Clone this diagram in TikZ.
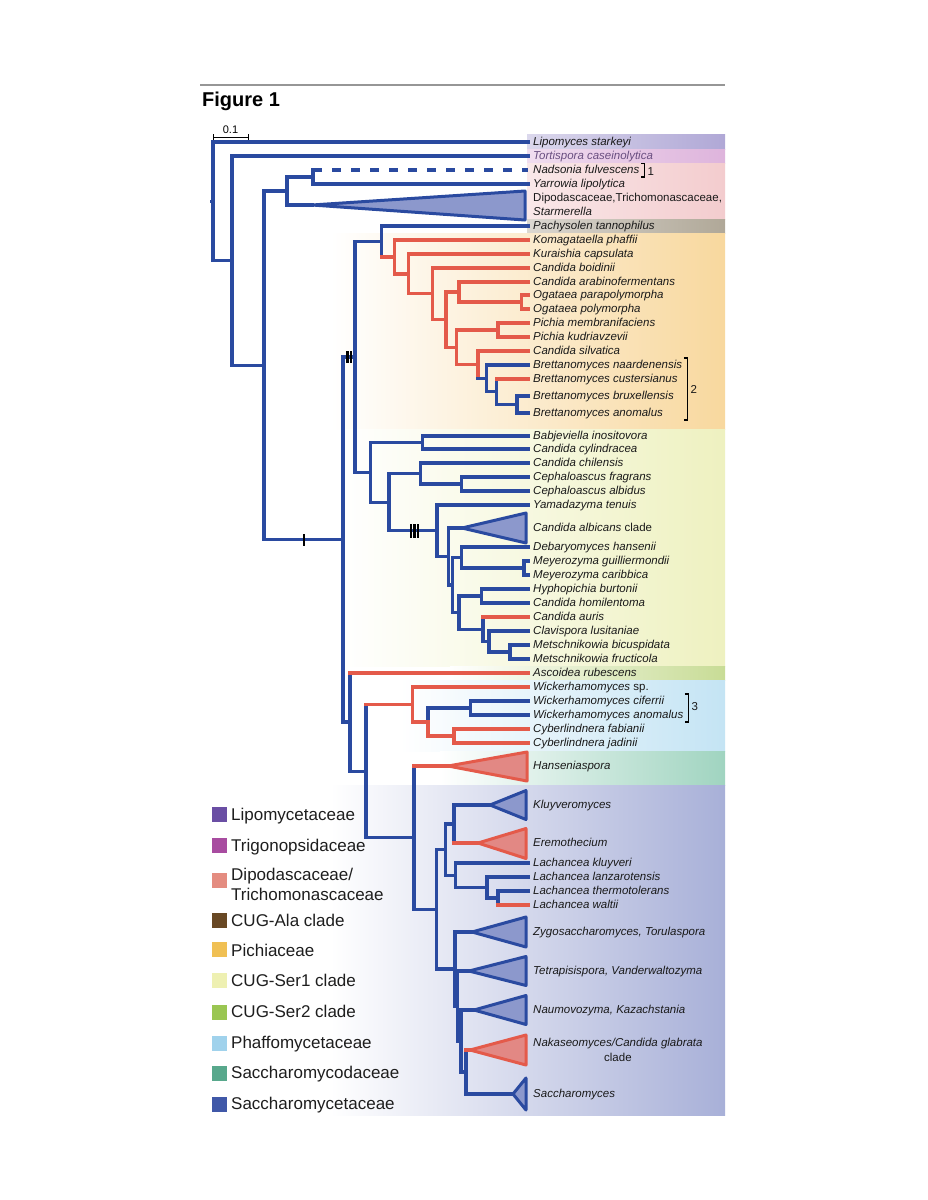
\documentclass[tikz,border=0pt]{standalone}
\usepackage{fontspec}
\setmainfont{Liberation Sans}
\usetikzlibrary{calc}
\definecolor{tb}{RGB}{42,74,160}
\definecolor{tr}{RGB}{228,90,74}
\definecolor{fb}{RGB}{140,152,204}
\definecolor{fr}{RGB}{226,136,132}
\definecolor{labtxt}{RGB}{25,25,25}
\definecolor{legtxt}{RGB}{30,30,30}
\definecolor{tortc}{RGB}{105,78,128}
\definecolor{rulec}{RGB}{150,150,150}
\definecolor{bLipo}{RGB}{176,168,214}
\definecolor{bTort}{RGB}{222,180,220}
\definecolor{bDip}{RGB}{243,204,206}
\definecolor{bPac}{RGB}{176,168,152}
\definecolor{bPic}{RGB}{248,216,158}
\definecolor{bSerA}{RGB}{238,241,192}
\definecolor{bSerB}{RGB}{200,220,150}
\definecolor{bPhf}{RGB}{196,228,244}
\definecolor{bSdc}{RGB}{160,212,192}
\definecolor{bSct}{RGB}{168,176,216}
\definecolor{lLipo}{RGB}{106,78,164}
\definecolor{lTrig}{RGB}{168,76,160}
\definecolor{lDip}{RGB}{228,140,128}
\definecolor{lAla}{RGB}{104,72,36}
\definecolor{lPic}{RGB}{240,192,84}
\definecolor{lSerA}{RGB}{238,240,178}
\definecolor{lSerB}{RGB}{154,198,82}
\definecolor{lPhf}{RGB}{160,210,236}
\definecolor{lSdc}{RGB}{88,168,140}
\definecolor{lSct}{RGB}{64,88,168}
\newcommand\labfont{\fontsize{11.5}{13}\selectfont}
\begin{document}
\begin{tikzpicture}[x=1pt,y=-1pt,
  lab/.style={anchor=west, inner xsep=5pt, inner ysep=0pt, text height=8.3pt, text depth=2.3pt, font=\labfont\itshape, text=labtxt},
  lup/.style={lab, font=\labfont},
  bb/.style={draw=tb, line width=3.2pt, line cap=rect},
  rr/.style={draw=tr, line width=3.2pt, line cap=rect},
  tbl/.style={draw=tb, fill=fb, line width=3pt, line join=round},
  trd/.style={draw=tr, fill=fr, line width=3pt, line join=round},
  brk/.style={draw=black, line width=1.1pt},
  mtick/.style={fill=black},
  num/.style={anchor=west, inner sep=0pt, font=\labfont, text=labtxt},
  legsq/.style={minimum size=15pt, inner sep=0pt, anchor=center},
  legtx/.style={anchor=west, inner sep=0pt, text height=12.5pt, text depth=3.5pt, font=\fontsize{17}{20}\selectfont, text=legtxt}
]
\useasboundingbox (0,0) rectangle (927,1200);
\fill[white] (0,0) rectangle (927,1200);

% ---------- background bands
\shade[left color=bLipo!45, right color=bLipo] (527,134) rectangle (725,149);
\shade[left color=bTort!45, right color=bTort] (527,149) rectangle (725,163);
\shade[left color=bDip!45, right color=bDip] (527,163) rectangle (725,219);
\shade[left color=bPac!45, right color=bPac] (527,219) rectangle (725,233);
\shade[left color=white, right color=bPic] (330,233) rectangle (725,429);
\shade[left color=white, right color=bSerA] (340,429) rectangle (725,666);
\shade[left color=white, right color=bSerB] (450,666) rectangle (725,680.5);
\shade[left color=white, right color=bPhf] (400,680.5) rectangle (725,751);
\shade[left color=white, right color=bSdc] (440,751) rectangle (725,785);
\shade[left color=white, right color=bSct] (330,785) rectangle (725,1115);

% ---------- title
\coordinate (ruleL) at (200,85);
\coordinate (ruleR) at (725,85);
\draw[rulec, line width=1.2pt] (ruleL) -- (ruleR);
\node[anchor=base west, inner sep=0pt, font=\fontsize{20}{24}\selectfont\bfseries] (title) at (202,106) {Figure 1};

% ---------- scale bar
\coordinate (sbL) at (213,137);
\coordinate (sbR) at (248,137);
\draw[line width=0.8pt] (sbL) -- (sbR);
\draw[line width=0.8pt] ($(sbL)+(0,-3)$) -- ($(sbL)+(0,3)$);
\draw[line width=0.8pt] ($(sbR)+(0,-3)$) -- ($(sbR)+(0,3)$);
\node[inner sep=0pt, font=\fontsize{11}{13}\selectfont] (sbt) at (230.5,130) {0.1};

% ---------- leaf labels
\node[lab] (Lipo) at (528,142) {Lipomyces starkeyi};
\node[lab, text=tortc] (Tort) at (528,156) {Tortispora caseinolytica};
\node[lab] (Nads) at (528,170) {Nadsonia fulvescens};
\node[lab] (Yarr) at (528,184) {Yarrowia lipolytica};
\node[lup] (DipA) at (528,198) {Dipodascaceae,Trichomonascaceae,};
\node[lab] (DipB) at (528,212) {Starmerella};
\node[lab] (Pachy) at (528,226) {Pachysolen tannophilus};
\node[lab] (Koma) at (528,240) {Komagataella phaffii};
\node[lab] (Kura) at (528,254) {Kuraishia capsulata};
\node[lab] (Cboi) at (528,268) {Candida boidinii};
\node[lab] (Cara) at (528,282) {Candida arabinofermentans};
\node[lab] (Opar) at (528,295) {Ogataea parapolymorpha};
\node[lab] (Opol) at (528,309) {Ogataea polymorpha};
\node[lab] (Pmem) at (528,323) {Pichia membranifaciens};
\node[lab] (Pkud) at (528,337) {Pichia kudriavzevii};
\node[lab] (Csil) at (528,351) {Candida silvatica};
\node[lab] (Bnaa) at (528,365) {Brettanomyces naardenensis};
\node[lab] (Bcus) at (528,379) {Brettanomyces custersianus};
\node[lab] (Bbru) at (528,396) {Brettanomyces bruxellensis};
\node[lab] (Bano) at (528,413) {Brettanomyces anomalus};
\node[lab] (Babj) at (528,436) {Babjeviella inositovora};
\node[lab] (Ccyl) at (528,449) {Candida cylindracea};
\node[lab] (Cchi) at (528,463) {Candida chilensis};
\node[lab] (Cfra) at (528,477) {Cephaloascus fragrans};
\node[lab] (Calb) at (528,491) {Cephaloascus albidus};
\node[lab] (Yten) at (528,505) {Yamadazyma tenuis};
\node[lup] (Calc) at (528,528) {\textit{Candida albicans} clade};
\node[lab] (Dhan) at (528,547) {Debaryomyces hansenii};
\node[lab] (Mgui) at (528,561) {Meyerozyma guilliermondii};
\node[lab] (Mcar) at (528,575) {Meyerozyma caribbica};
\node[lab] (Hbur) at (528,589) {Hyphopichia burtonii};
\node[lab] (Chom) at (528,603) {Candida homilentoma};
\node[lab] (Caur) at (528,617) {Candida auris};
\node[lab] (Clus) at (528,631) {Clavispora lusitaniae};
\node[lab] (Mbic) at (528,645) {Metschnikowia bicuspidata};
\node[lab] (Mfru) at (528,659) {Metschnikowia fructicola};
\node[lab] (Arub) at (528,673) {Ascoidea rubescens};
\node[lup] (Wsp) at (528,687) {\textit{Wickerhamomyces} sp.};
\node[lab] (Wcif) at (528,701) {Wickerhamomyces ciferrii};
\node[lab] (Wano) at (528,715) {Wickerhamomyces anomalus};
\node[lab] (Cfab) at (528,729) {Cyberlindnera fabianii};
\node[lab] (Cjad) at (528,743) {Cyberlindnera jadinii};
\node[lab] (Hans) at (528,766) {Hanseniaspora};
\node[lab] (Kluy) at (528,805) {Kluyveromyces};
\node[lab] (Erem) at (528,843) {Eremothecium};
\node[lab] (Lklu) at (528,863) {Lachancea kluyveri};
\node[lab] (Llan) at (528,877) {Lachancea lanzarotensis};
\node[lab] (Lthe) at (528,891) {Lachancea thermotolerans};
\node[lab] (Lwal) at (528,905) {Lachancea waltii};
\node[lab] (Zygo) at (528,932) {Zygosaccharomyces, Torulaspora};
\node[lab] (Tetr) at (528,971) {Tetrapisispora, Vanderwaltozyma};
\node[lab] (Naum) at (528,1010) {Naumovozyma, Kazachstania};
\node[lab] (Naka) at (528,1043) {Nakaseomyces/Candida glabrata};
\node[inner sep=0pt, font=\labfont, text=labtxt] (NakaB) at ($(Naka.center)+(0,14)$) {clade};
\node[lab] (Sacc) at (528,1094) {Saccharomyces};

% ---------- brackets
\coordinate (bAt) at (0,163.5); \coordinate (bAb) at (0,177);
\coordinate (bBt) at (0,358); \coordinate (bBb) at (0,420);
\coordinate (bCt) at (0,694); \coordinate (bCb) at (0,722);
\draw[brk] ($(Nads.east |- bAt)+(-3.5,0)$) -- (Nads.east |- bAt) -- (Nads.east |- bAb) -- ($(Nads.east |- bAb)+(-3.5,0)$);
\node[num] (numA) at ($(Nads.east |- bAt)!0.5!(Nads.east |- bAb)+(3,1)$) {1};
\draw[brk] ($(Bnaa.east |- bBt)+(-3.5,0)$) -- (Bnaa.east |- bBt) -- (Bnaa.east |- bBb) -- ($(Bnaa.east |- bBb)+(-3.5,0)$);
\node[num] (numB) at ($(Bnaa.east |- bBt)!0.5!(Bnaa.east |- bBb)+(3,0)$) {2};
\draw[brk] ($(Wano.east |- bCt)+(-3.5,0)$) -- (Wano.east |- bCt) -- (Wano.east |- bCb) -- ($(Wano.east |- bCb)+(-3.5,0)$);
\node[num] (numC) at ($(Wano.east |- bCt)!0.5!(Wano.east |- bCb)+(3,-1)$) {3};

% ---------- internal nodes
\coordinate (root) at (213,201.3);
\coordinate (n2) at (232,260.6);
\coordinate (n3) at (264,365.25);
\coordinate (n4) at (287,191);
\coordinate (n5) at (313,177);
\coordinate (n6) at (343,539.5);
\coordinate (n7) at (355,356.9);
\coordinate (n8) at (381.4,241.5);
\coordinate (nP6) at (394.5,257);
\coordinate (nP5) at (408.3,273.9);
\coordinate (nP4) at (432.4,293.8);
\coordinate (nP3) at (445.9,319.7);
\coordinate (nAra) at (459,292);
\coordinate (nOg) at (521.7,302);
\coordinate (nP2) at (456.2,347.3);
\coordinate (nPic) at (498,330);
\coordinate (nSil) at (477.9,364.7);
\coordinate (nBn) at (486.6,378.4);
\coordinate (nBc) at (496.2,391.75);
\coordinate (nBB) at (516.9,404.5);
\coordinate (n9) at (370.7,472.3);
\coordinate (n10) at (422.7,442.5);
\coordinate (n11) at (389,502.1);
\coordinate (n12) at (420.7,473.5);
\coordinate (nCe) at (461.3,484);
\coordinate (n13) at (437,530.8);
\coordinate (n14) at (448.5,556.5);
\coordinate (n15) at (452.5,585);
\coordinate (n16) at (461.3,557.5);
\coordinate (nMe) at (524,568);
\coordinate (n17) at (459,612.6);
\coordinate (nH) at (481.7,596);
\coordinate (nA) at (483,629.25);
\coordinate (nC) at (489,641.5);
\coordinate (nMt) at (510,652);
\coordinate (n18) at (350,722);
\coordinate (n19) at (366,771.1);
\coordinate (nPh) at (412.7,704.5);
\coordinate (nW2) at (428,722);
\coordinate (nWc) at (470.7,708);
\coordinate (nCy) at (454,736);
\coordinate (nSa) at (414,837.65);
\coordinate (nS2) at (436.7,909.3);
\coordinate (nKL) at (445.7,849.6);
\coordinate (nKE) at (454,824);
\coordinate (nL) at (455.7,875.25);
\coordinate (nL3) at (487,887.5);
\coordinate (nLt) at (498,898);
\coordinate (nZ) at (455,969);
\coordinate (nT) at (457.5,1006);
\coordinate (nN) at (461,1041);
\coordinate (nNS) at (466,1072);
% triangle apexes
\coordinate (tDip) at (312,205);
\coordinate (tAlb) at (462,528);
\coordinate (tHan) at (448,766);
\coordinate (tKlu) at (490,805);
\coordinate (tErm) at (478,843);
\coordinate (tZyg) at (472,932);
\coordinate (tTet) at (469,971);
\coordinate (tNau) at (474,1010);
\coordinate (tNak) at (470,1050);
\coordinate (tSac) at (513,1094);

% ---------- top part
\draw[bb] (root |- Lipo) -- (root |- n2);
\draw[bb, line cap=butt] (root) -- ++(-3,0);
\draw[bb] (root |- Lipo) -- (Lipo.west);
\draw[bb] (root |- n2) -- (n2);
\draw[bb] (n2 |- Tort) -- (n2 |- n3);
\draw[bb] (n2 |- Tort) -- (Tort.west);
\draw[bb] (n2 |- n3) -- (n3);
\draw[bb] (n3 |- n4) -- (n3 |- n6);
\draw[bb] (n3 |- n4) -- (n4);
\draw[bb] (n3 |- n6) -- (n6);
\draw[bb] (n4 |- n5) -- (n4 |- tDip);
\draw[bb] (n4 |- n5) -- (n5);
\draw[bb] (n4 |- tDip) -- (tDip);
\draw[bb] (n5 |- Nads) -- (n5 |- Yarr);
\draw[bb, line cap=butt, dash pattern=on 9pt off 10pt] (n5 |- Nads) -- (Nads.west);
\draw[bb] (n5 |- Yarr) -- (Yarr.west);
\draw[tbl] (tDip) -- (525,191) -- (525,220) -- cycle;

% ---------- n6 / n7
\draw[bb] (n6 |- n7) -- (n6 |- n18);
\draw[bb] (n6 |- n7) -- (n7);
\draw[bb] (n6 |- n18) -- (n18);
\draw[bb] (n7 |- n8) -- (n7 |- n9);
\draw[bb] (n7 |- n8) -- (n8);
\draw[bb] (n7 |- n9) -- (n9);

% ---------- Pichiaceae
\draw[bb] (n8 |- Pachy) -- (n8 |- nP6);
\draw[bb] (n8 |- Pachy) -- (Pachy.west);
\draw[rr] (n8 |- nP6) -- (nP6);
\draw[rr] (nP6 |- Koma) -- (nP6 |- nP5);
\draw[rr] (nP6 |- Koma) -- (Koma.west);
\draw[rr] (nP6 |- nP5) -- (nP5);
\draw[rr] (nP5 |- Kura) -- (nP5 |- nP4);
\draw[rr] (nP5 |- Kura) -- (Kura.west);
\draw[rr] (nP5 |- nP4) -- (nP4);
\draw[rr] (nP4 |- Cboi) -- (nP4 |- nP3);
\draw[rr] (nP4 |- Cboi) -- (Cboi.west);
\draw[rr] (nP4 |- nP3) -- (nP3);
\draw[rr] (nP3 |- nAra) -- (nP3 |- nP2);
\draw[rr] (nP3 |- nAra) -- (nAra);
\draw[rr] (nP3 |- nP2) -- (nP2);
\draw[rr] (nAra |- Cara) -- (nAra |- nOg);
\draw[rr] (nAra |- Cara) -- (Cara.west);
\draw[rr] (nAra |- nOg) -- (nOg);
\draw[rr] (nOg |- Opar) -- (nOg |- Opol);
\draw[rr] (nOg |- Opar) -- (Opar.west);
\draw[rr] (nOg |- Opol) -- (Opol.west);
\draw[rr] (nP2 |- nPic) -- (nP2 |- nSil);
\draw[rr] (nP2 |- nPic) -- (nPic);
\draw[rr] (nP2 |- nSil) -- (nSil);
\draw[rr] (nPic |- Pmem) -- (nPic |- Pkud);
\draw[rr] (nPic |- Pmem) -- (Pmem.west);
\draw[rr] (nPic |- Pkud) -- (Pkud.west);
\draw[rr] (nSil |- Csil) -- (nSil |- nBn);
\draw[rr] (nSil |- Csil) -- (Csil.west);
\draw[bb] (nSil |- nBn) -- (nBn);
\draw[bb] (nBn |- Bnaa) -- (nBn |- nBc);
\draw[bb] (nBn |- Bnaa) -- (Bnaa.west);
\draw[bb] (nBn |- nBc) -- (nBc);
\draw[bb] (nBc |- Bcus) -- (nBc |- nBB);
\draw[rr] (nBc |- Bcus) -- (Bcus.west);
\draw[bb] (nBc |- nBB) -- (nBB);
\draw[bb] (nBB |- Bbru) -- (nBB |- Bano);
\draw[bb] (nBB |- Bbru) -- (Bbru.west);
\draw[bb] (nBB |- Bano) -- (Bano.west);

% ---------- CUG-Ser1
\draw[bb] (n9 |- n10) -- (n9 |- n11);
\draw[bb] (n9 |- n10) -- (n10);
\draw[bb] (n9 |- n11) -- (n11);
\draw[bb] (n10 |- Babj) -- (n10 |- Ccyl);
\draw[bb] (n10 |- Babj) -- (Babj.west);
\draw[bb] (n10 |- Ccyl) -- (Ccyl.west);
\draw[bb] (n11 |- n12) -- (n11 |- n13);
\draw[bb] (n11 |- n12) -- (n12);
\draw[bb] (n11 |- n13) -- (n13);
\draw[bb] (n12 |- Cchi) -- (n12 |- nCe);
\draw[bb] (n12 |- Cchi) -- (Cchi.west);
\draw[bb] (n12 |- nCe) -- (nCe);
\draw[bb] (nCe |- Cfra) -- (nCe |- Calb);
\draw[bb] (nCe |- Cfra) -- (Cfra.west);
\draw[bb] (nCe |- Calb) -- (Calb.west);
\draw[bb] (n13 |- Yten) -- (n13 |- n14);
\draw[bb] (n13 |- Yten) -- (Yten.west);
\draw[bb] (n13 |- n14) -- (n14);
\draw[bb] (n14 |- tAlb) -- (n14 |- n15);
\draw[bb] (n14 |- tAlb) -- (tAlb);
\draw[bb] (n14 |- n15) -- (n15);
\draw[tbl] (tAlb) -- (526,513) -- (526,543) -- cycle;
\draw[bb] (n15 |- n16) -- (n15 |- n17);
\draw[bb] (n15 |- n16) -- (n16);
\draw[bb] (n15 |- n17) -- (n17);
\draw[bb] (n16 |- Dhan) -- (n16 |- nMe);
\draw[bb] (n16 |- Dhan) -- (Dhan.west);
\draw[bb] (n16 |- nMe) -- (nMe);
\draw[bb] (nMe |- Mgui) -- (nMe |- Mcar);
\draw[bb] (nMe |- Mgui) -- (Mgui.west);
\draw[bb] (nMe |- Mcar) -- (Mcar.west);
\draw[bb] (n17 |- nH) -- (n17 |- nA);
\draw[bb] (n17 |- nH) -- (nH);
\draw[bb] (n17 |- nA) -- (nA);
\draw[bb] (nH |- Hbur) -- (nH |- Chom);
\draw[bb] (nH |- Hbur) -- (Hbur.west);
\draw[bb] (nH |- Chom) -- (Chom.west);
\draw[bb] (nA |- Caur) -- (nA |- nC);
\draw[rr] (nA |- Caur) -- (Caur.west);
\draw[bb] (nA |- nC) -- (nC);
\draw[bb] (nC |- Clus) -- (nC |- nMt);
\draw[bb] (nC |- Clus) -- (Clus.west);
\draw[bb] (nC |- nMt) -- (nMt);
\draw[bb] (nMt |- Mbic) -- (nMt |- Mfru);
\draw[bb] (nMt |- Mbic) -- (Mbic.west);
\draw[bb] (nMt |- Mfru) -- (Mfru.west);

% ---------- marks
\fill[mtick] (302.8,533.5) rectangle (305.2,545.5);
\fill[mtick] (346.1,351) rectangle (348.5,363);
\fill[mtick] (349.7,351) rectangle (352.1,363);
\fill[mtick] (409.8,524) rectangle (412.2,537.5);
\fill[mtick] (413.3,524) rectangle (415.7,537.5);
\fill[mtick] (416.8,524) rectangle (419.2,537.5);

% ---------- Ascoidea / Phaffomycetaceae
\draw[bb] (n18 |- Arub) -- (n18 |- n19);
\draw[rr] (n18 |- Arub) -- (Arub.west);
\draw[bb] (n18 |- n19) -- (n19);
\draw[bb] (n19 |- nPh) -- (n19 |- nSa);
\draw[rr] (n19 |- nPh) -- (nPh);
\draw[bb] (n19 |- nSa) -- (nSa);
\draw[rr] (nPh |- Wsp) -- (nPh |- nW2);
\draw[rr] (nPh |- Wsp) -- (Wsp.west);
\draw[rr] (nPh |- nW2) -- (nW2);
\draw[bb] (nW2 |- nWc) -- (nW2);
\draw[rr] (nW2) -- (nW2 |- nCy);
\draw[bb] (nW2 |- nWc) -- (nWc);
\draw[rr] (nW2 |- nCy) -- (nCy);
\draw[bb] (nWc |- Wcif) -- (nWc |- Wano);
\draw[bb] (nWc |- Wcif) -- (Wcif.west);
\draw[bb] (nWc |- Wano) -- (Wano.west);
\draw[rr] (nCy |- Cfab) -- (nCy |- Cjad);
\draw[rr] (nCy |- Cfab) -- (Cfab.west);
\draw[rr] (nCy |- Cjad) -- (Cjad.west);

% ---------- Saccharomycodaceae / Saccharomycetaceae
\draw[bb] (nSa |- tHan) -- (nSa |- nS2);
\draw[rr] (nSa |- tHan) -- (tHan);
\draw[bb] (nSa |- nS2) -- (nS2);
\draw[trd] (tHan) -- (527,752) -- (527,781) -- cycle;
\draw[bb] (nS2 |- nKL) -- (nS2 |- nZ);
\draw[bb] (nS2 |- nKL) -- (nKL);
\draw[bb] (nS2 |- nZ) -- (nZ);
\draw[bb] (nKL |- nKE) -- (nKL |- nL);
\draw[bb] (nKL |- nKE) -- (nKE);
\draw[bb] (nKL |- nL) -- (nL);
\draw[bb] (nKE |- tKlu) -- (nKE |- tErm);
\draw[bb] (nKE |- tKlu) -- (tKlu);
\draw[rr] (nKE |- tErm) -- (tErm);
\draw[tbl] (tKlu) -- (526,790.5) -- (526,819.5) -- cycle;
\draw[trd] (tErm) -- (526,828.5) -- (526,858.5) -- cycle;
\draw[bb] (nL |- Lklu) -- (nL |- nL3);
\draw[bb] (nL |- Lklu) -- (Lklu.west);
\draw[bb] (nL |- nL3) -- (nL3);
\draw[bb] (nL3 |- Llan) -- (nL3 |- nLt);
\draw[bb] (nL3 |- Llan) -- (Llan.west);
\draw[bb] (nL3 |- nLt) -- (nLt);
\draw[bb] (nLt |- Lthe) -- (nLt |- Lwal);
\draw[bb] (nLt |- Lthe) -- (Lthe.west);
\draw[rr] (nLt |- Lwal) -- (Lwal.west);
\draw[bb] (nZ |- tZyg) -- (nZ |- nT);
\draw[bb] (nZ |- tZyg) -- (tZyg);
\draw[bb] (nZ |- nT) -- (nT);
\draw[bb] (nT |- tTet) -- (nT |- nN);
\draw[bb] (nT |- tTet) -- (tTet);
\draw[bb] (nT |- nN) -- (nN);
\draw[bb] (nN |- tNau) -- (nN |- nNS);
\draw[bb] (nN |- tNau) -- (tNau);
\draw[bb] (nN |- nNS) -- (nNS);
\draw[bb] (nNS |- tNak) -- (nNS |- tSac);
\draw[rr] (nNS |- tNak) -- (tNak);
\draw[bb] (nNS |- tSac) -- (tSac);
\draw[tbl] (tZyg) -- (526,917) -- (526,947) -- cycle;
\draw[tbl] (tTet) -- (526,956.5) -- (526,985.5) -- cycle;
\draw[tbl] (tNau) -- (526,995.5) -- (526,1024.5) -- cycle;
\draw[trd] (tNak) -- (526,1035) -- (526,1065) -- cycle;
\draw[tbl] (tSac) -- (526,1078) -- (526,1110) -- cycle;

% ---------- legend
\node[legsq, fill=lLipo] (sq1) at (219.5,814.5) {};
\node[legtx] (lg1) at (231,815.5) {Lipomycetaceae};
\node[legsq, fill=lTrig] (sq2) at (219.5,845.5) {};
\node[legtx] (lg2) at (231,846.5) {Trigonopsidaceae};
\node[legsq, fill=lDip] (sq3) at (219.5,880) {};
\node[legtx] (lg3) at (231,876) {Dipodascaceae/};
\node[legtx] (lg3b) at (231,896) {Trichomonascaceae};
\node[legsq, fill=lAla] (sq4) at (219.5,920) {};
\node[legtx] (lg4) at (231,921.5) {CUG-Ala clade};
\node[legsq, fill=lPic] (sq5) at (219.5,949) {};
\node[legtx] (lg5) at (231,951.5) {Pichiaceae};
\node[legsq, fill=lSerA] (sq6) at (219.5,980) {};
\node[legtx] (lg6) at (231,982) {CUG-Ser1 clade};
\node[legsq, fill=lSerB] (sq7) at (219.5,1012) {};
\node[legtx] (lg7) at (231,1013) {CUG-Ser2 clade};
\node[legsq, fill=lPhf] (sq8) at (219.5,1043) {};
\node[legtx] (lg8) at (231,1044) {Phaffomycetaceae};
\node[legsq, fill=lSdc] (sq9) at (219.5,1073) {};
\node[legtx] (lg9) at (231,1074) {Saccharomycodaceae};
\node[legsq, fill=lSct] (sq10) at (219.5,1104) {};
\node[legtx] (lg10) at (231,1104.5) {Saccharomycetaceae};
\end{tikzpicture}
\end{document}
